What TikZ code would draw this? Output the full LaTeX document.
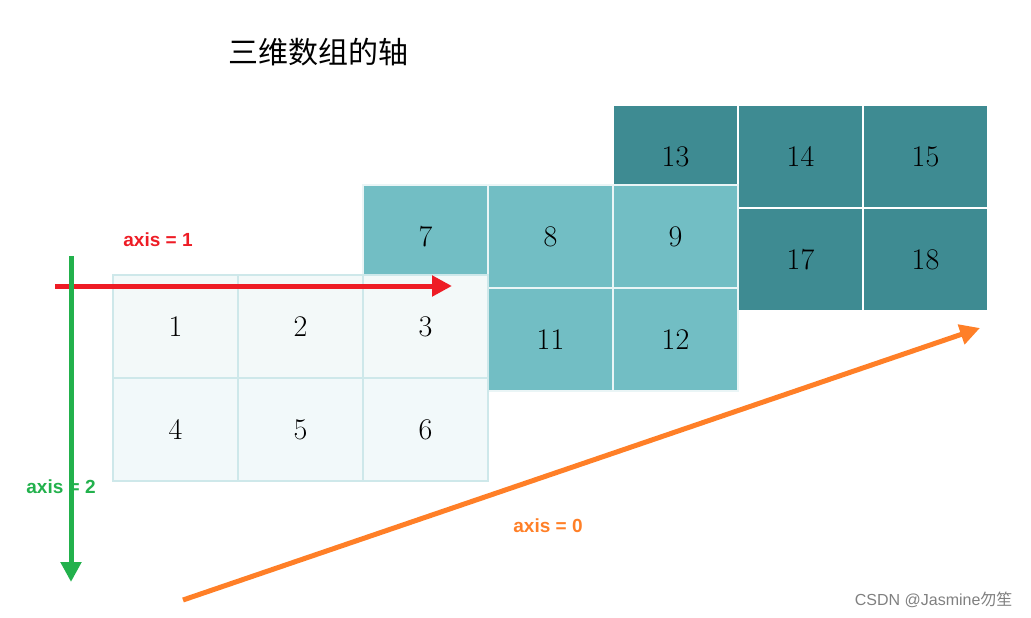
\documentclass[tikz,border=0pt]{standalone}
\usepackage{fontspec}
\setsansfont{Liberation Sans}
\newfontfamily\cjk{Noto Sans CJK SC}
\usetikzlibrary{arrows.meta}
\definecolor{dark}{HTML}{3E8B92}
\definecolor{mid}{HTML}{72BEC4}
\definecolor{lite}{HTML}{F3F9F9}
\definecolor{redc}{HTML}{EE1C25}
\definecolor{greenc}{HTML}{22B14C}
\definecolor{orangec}{HTML}{FF7F27}
\tikzset{
  cellbox/.style={minimum width=125pt,minimum height=103pt,inner sep=0pt,font=\fontsize{30}{30}\selectfont},
  darkcell/.style={cellbox,fill=dark,draw=white,line width=1.2pt},
  midcell/.style={cellbox,fill=mid,draw=white!85!mid,line width=1.2pt},
  litecell/.style={cellbox,fill=lite,draw=mid!35,line width=1.2pt},
  axisarrow/.style={line width=5pt,-{Triangle[length=20pt,width=20pt]}},
  axislabel/.style={font=\sffamily\bfseries\fontsize{19}{19}\selectfont}
}
\begin{document}
\begin{tikzpicture}[x=1pt,y=-1pt]
\useasboundingbox (0,0) rectangle (1031,618);
\node[font=\cjk\fontsize{30}{30}\selectfont] (title) at (318,52) {三维数组的轴};
% back
\node[darkcell] (c16) at (675.5,259.5) {};
\node[darkcell] (c13) at (675.5,156.5) {13};
\node[darkcell] (c14) at (800.5,156.5) {14};
\node[darkcell] (c15) at (925.5,156.5) {15};
\node[darkcell] (c17) at (800.5,259.5) {17};
\node[darkcell] (c18) at (925.5,259.5) {18};
% middle
\node[midcell] (c10) at (425.5,339.5) {};
\node[midcell] (c7) at (425.5,236.5) {7};
\node[midcell] (c8) at (550.5,236.5) {8};
\node[midcell] (c9) at (675.5,236.5) {9};
\node[midcell] (c11) at (550.5,339.5) {11};
\node[midcell] (c12) at (675.5,339.5) {12};
% front
\node[litecell] (c1) at (175.5,326.5) {1};
\node[litecell] (c2) at (300.5,326.5) {2};
\node[litecell] (c3) at (425.5,326.5) {3};
\node[litecell,fill=lite!70!mid!25] (c4) at (175.5,429.5) {4};
\node[litecell,fill=lite!70!mid!25] (c5) at (300.5,429.5) {5};
\node[litecell,fill=lite!70!mid!25] (c6) at (425.5,429.5) {6};
% arrows
\coordinate (r0) at (55,286); \coordinate (r1) at (452,286);
\coordinate (g0) at (71,256); \coordinate (g1) at (71,582);
\coordinate (o0) at (183,600); \coordinate (o1) at (980,328);
\draw[axisarrow,redc] (r0) -- (r1);
\draw[axisarrow,greenc] (g0) -- (g1);
\draw[axisarrow,orangec] (o0) -- (o1);
\node[axislabel,text=redc] (l1) at (158,240) {axis = 1};
\node[axislabel,text=greenc] (l2) at (61,487) {axis = 2};
\node[axislabel,text=orangec] (l0) at (548,526) {axis = 0};
\node[font=\sffamily\fontsize{16}{16}\selectfont,text=gray,anchor=east] (wm) at (1016,600) {CSDN @Jasmine{\cjk 勿笙}};
\end{tikzpicture}
\end{document}
